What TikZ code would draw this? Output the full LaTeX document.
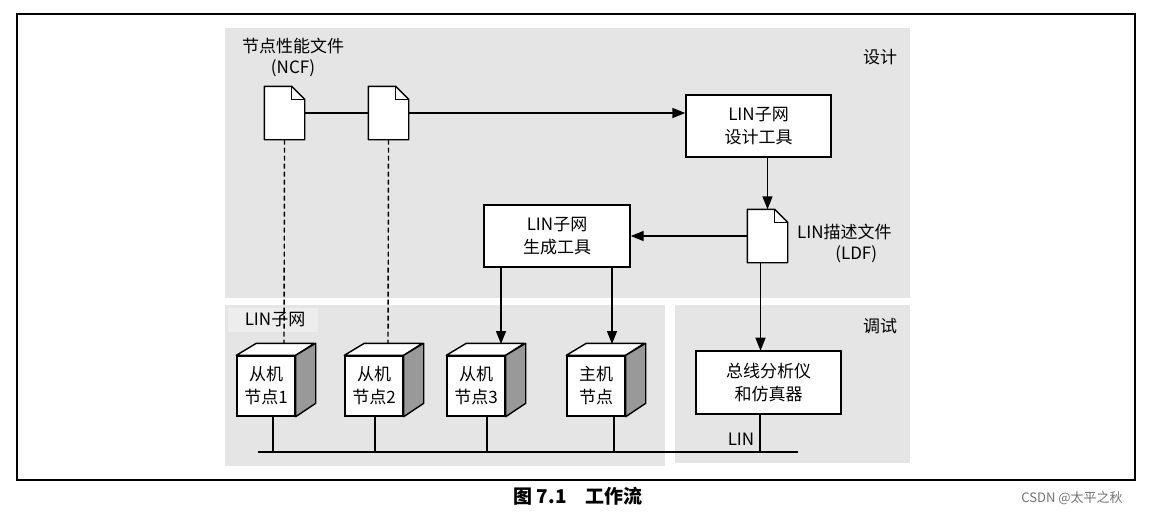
\documentclass[tikz,border=0pt]{standalone}
\usepackage{fontspec}
\setmainfont{Noto Sans CJK SC}
\usetikzlibrary{arrows.meta}
\begin{document}
\begin{tikzpicture}[x=1pt,y=-1pt,line width=1.4pt,
  region/.style={fill=black!10,draw=none},
  box/.style={draw,fill=white,align=center,inner sep=0pt,font=\fontsize{17}{23}\selectfont},
  front/.style={draw,fill=white,align=center,inner sep=0pt,minimum width=58pt,minimum height=60pt,font=\fontsize{17}{23}\selectfont},
  lbl/.style={font=\fontsize{17}{21}\selectfont,align=center},
  arr/.style={-{Triangle[length=13pt,width=10pt]}},
  doc/.style={draw,fill=white,inner sep=0pt,minimum width=39pt,minimum height=52pt}]
\useasboundingbox (0,0) rectangle (1153,517);
\fill[white] (0,0) rectangle (1153,517);
\draw (17,14) rectangle (1135,480);
\fill[region] (225,28) rectangle (910,298);
\fill[region] (225,305) rectangle (665,466);
\fill[region] (675,305) rectangle (910,463);
\fill[black!7] (228,308) rectangle (318,332);
\node[lbl] (tsj) at (880,57) {设计};
\node[lbl] (tts) at (880,326) {调试};
\node[lbl] (tln) at (275,320) {LIN子网};
\node[lbl] (tncf) at (293,57) {节点性能文件\\(NCF)};
\node[lbl,anchor=west] (tldf) at (793,243) {LIN描述文件\\\hspace*{1.4em}(LDF)};
% documents
\foreach \n/\x/\y in {d1/284.5/113, d2/388.5/113, d3/767.5/236}{
  \path (\x,\y) node[minimum width=39pt,minimum height=52pt,inner sep=0pt] (\n) {};
  \draw[fill=white,line join=round] (\n.north west) -- ([xshift=-13pt]\n.north east) -- ([yshift=-13pt]\n.north east) -- (\n.south east) -- (\n.south west) -- cycle;
  \draw[line join=round] ([xshift=-13pt]\n.north east) |- ([yshift=-13pt]\n.north east);
}
\node[box,minimum width=145pt,minimum height=62pt] (b1) at (758.5,126) {LIN子网\\设计工具};
\node[box,minimum width=146pt,minimum height=62pt] (b2) at (557,236) {LIN子网\\生成工具};
\node[box,minimum width=145pt,minimum height=63pt] (b3) at (768.5,382.5) {总线分析仪\\和仿真器};
% connectors (dashed first)
\coordinate (c1t) at (284,348);
\coordinate (c2t) at (388,348);
\draw[dash pattern=on 5pt off 3pt] (d1.south) -- (c1t);
\draw[dash pattern=on 5pt off 3pt] (d2.south) -- (c2t);
% cubes
\node[front] (c1) at (266,386) {从机\\节点1};
\node[front] (c2) at (374,386) {从机\\节点2};
\node[front] (c3) at (476,386) {从机\\节点3};
\node[front] (c4) at (596,386) {主机\\节点};
\foreach \c in {c1,c2,c3,c4}{
  \draw[fill=white,line join=round] (\c.north west) -- ++(20,-12) -- ++(58,0) -- (\c.north east) -- cycle;
  \draw[fill=black!40,line join=round] (\c.north east) -- ++(20,-12) -- ++(0,60) -- (\c.south east) -- cycle;
}
\draw (d1.east) -- (d2.west);
\draw[arr] (d2.east) -- (b1.west |- d2.east);
\draw[arr] (b1.south -| d3.north) -- (d3.north);
\draw[arr] (d3.west) -- (b2.east);
\draw[arr] (b2.south -| 501,0) -- (501,344);
\draw[arr] (b2.south -| 612,0) -- (612,344);
\draw[arr] (d3.south -| b3.north) ++(-8,0) -- ++(0,88);
% bus
\coordinate (busL) at (258,452);
\coordinate (busR) at (798,452);
\draw (busL) -- (busR);
\foreach \c/\x in {c1/273,c2/375,c3/487,c4/614}{
  \draw (\c.south -| \x,0) -- (\x,452);
}
\draw (b3.south -| 760,0) -- (760,452);
\node[lbl] (tlin) at (741,439) {LIN};
\node[font=\fontsize{19}{22}\selectfont\bfseries] (cap) at (578,496) {图 7.1\quad 工作流};
\node[font=\fontsize{13}{15}\selectfont,text=black!55] (csdn) at (1072,498) {CSDN @太平之秋};
\end{tikzpicture}
\end{document}
